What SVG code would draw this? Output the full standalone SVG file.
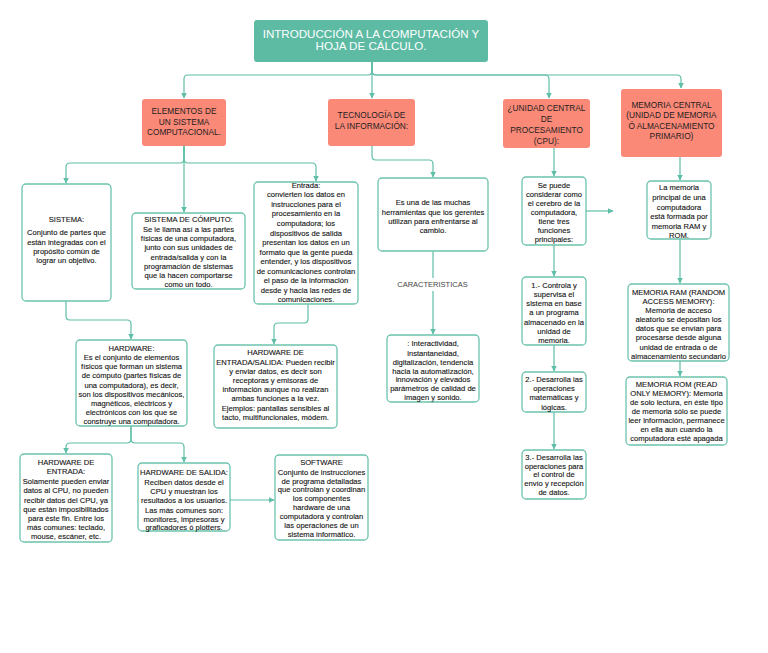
<svg xmlns="http://www.w3.org/2000/svg" width="768" height="653" viewBox="0 0 768 653">
<defs>
<marker id="ah" markerWidth="6" markerHeight="6" refX="5.5" refY="3" orient="auto" markerUnits="userSpaceOnUse">
<path d="M0,0 L6,3 L0,6 z" fill="#5fbea7"/>
</marker>
<style>
.box{fill:#ffffff;stroke:#6cc4ae;stroke-width:1.3}
.sal{fill:#fa8978;stroke:none}
.ttlbox{fill:#5dbba4;stroke:none}
.ttl{font-family:"Liberation Sans",Arial,sans-serif;font-size:11.6px;fill:#ffffff;text-anchor:middle}
.s{font-family:"Liberation Sans",Arial,sans-serif;font-size:8.3px;fill:#1e1e1e;text-anchor:middle}
.t{font-family:"Liberation Sans",Arial,sans-serif;font-size:7.6px;fill:#141414;stroke:#141414;stroke-width:0.12;text-anchor:middle}
.lbl{font-family:"Liberation Sans",Arial,sans-serif;font-size:7.5px;fill:#444444;text-anchor:middle}
.c{fill:none;stroke:#5fbea7;stroke-width:1.2}
</style>
</defs>
<rect width="768" height="653" fill="#ffffff"/>

<g id="connectors">
<path class="c" d="M372,62 V71 Q372,75 368,75 H188 Q184,75 184,79 V98" marker-end="url(#ah)"/>
<path class="c" d="M372,62 V98" marker-end="url(#ah)"/>
<path class="c" d="M372,62 V71 Q372,75 376,75 H545 Q549,75 549,79 V98" marker-end="url(#ah)"/>
<path class="c" d="M372,62 V71 Q372,75 376,75 H677 Q681,75 681,79 V88" marker-end="url(#ah)"/>
<path class="c" d="M184,146 V159 Q184,163 180,163 H70 Q66,163 66,167 V183" marker-end="url(#ah)"/>
<path class="c" d="M184,146 V212" marker-end="url(#ah)"/>
<path class="c" d="M184,146 V159 Q184,163 188,163 H312 Q316,163 316,167 V181" marker-end="url(#ah)"/>
<path class="c" d="M372,146 V156 Q372,160 376,160 H429 Q433,160 433,164 V177" marker-end="url(#ah)"/>
<path class="c" d="M433,251 V334" marker-end="url(#ah)"/>
<path class="c" d="M554,148 V176" marker-end="url(#ah)"/>
<path class="c" d="M554,245 V276" marker-end="url(#ah)"/>
<path class="c" d="M554,345 V371" marker-end="url(#ah)"/>
<path class="c" d="M554,412 V449" marker-end="url(#ah)"/>
<path class="c" d="M586,211 H613" marker-end="url(#ah)"/>
<path class="c" d="M680,157 V180" marker-end="url(#ah)"/>
<path class="c" d="M680,239 V283" marker-end="url(#ah)"/>
<path class="c" d="M680,361 V376" marker-end="url(#ah)"/>
<path class="c" d="M66,301 V316 Q66,320 70,320 H127 Q131,320 131,324 V339" marker-end="url(#ah)"/>
<path class="c" d="M308,304 V319 Q308,323 304,323 H278 Q274,323 274,327 V344" marker-end="url(#ah)"/>
<path class="c" d="M131,426 V439 Q131,443 127,443 H70 Q66,443 66,447 V453" marker-end="url(#ah)"/>
<path class="c" d="M131,426 V439 Q131,443 135,443 H180 Q184,443 184,447 V462" marker-end="url(#ah)"/>
<path class="c" d="M230,500 H274" marker-end="url(#ah)"/>
<rect x="396" y="278" width="73" height="13" fill="#ffffff"/>
<text class="lbl" x="432.5" y="286.8">CARACTERISTICAS</text>
</g>

<g id="titulo">
<rect class="ttlbox" x="254" y="20" width="234" height="42" rx="3"/>
<text class="ttl" x="371" y="37.5">INTRODUCCIÓN A LA COMPUTACIÓN Y</text>
<text class="ttl" x="371" y="50.2">HOJA DE CÁLCULO.</text>
</g>

<g id="elementos">
<rect class="sal" x="142" y="99" width="84" height="47" rx="3"/>
<text class="s" x="184" y="114">ELEMENTOS DE</text>
<text class="s" x="184" y="125">UN SISTEMA</text>
<text class="s" x="184" y="135">COMPUTACIONAL.</text>
</g>

<g id="tecnologia">
<rect class="sal" x="328" y="99" width="87" height="47" rx="3"/>
<text class="s" x="371.5" y="118">TECNOLOGÍA DE</text>
<text class="s" x="371.5" y="129">LA INFORMACIÓN:</text>
</g>

<g id="cpu">
<rect class="sal" x="503" y="99" width="87" height="49" rx="3"/>
<text class="s" x="546.5" y="111.3">¿UNIDAD CENTRAL</text>
<text class="s" x="546.5" y="122">DE</text>
<text class="s" x="546.5" y="133">PROCESAMIENTO</text>
<text class="s" x="546.5" y="143.7">(CPU):</text>
</g>

<g id="memoria">
<rect class="sal" x="621" y="89" width="101" height="68" rx="3"/>
<text class="s" x="671.5" y="108">MEMORIA CENTRAL</text>
<text class="s" x="671.5" y="118.3">(UNIDAD DE MEMORIA</text>
<text class="s" x="671.5" y="128.7">Ó ALMACENAMIENTO</text>
<text class="s" x="671.5" y="139">PRIMARIO)</text>
</g>

<g id="sistema">
<rect class="box" x="22" y="184" width="89" height="117" rx="4"/>
<text class="t" x="66.5" y="222">SISTEMA:</text>
<text class="t" x="66.5" y="235">Conjunto de partes que</text>
<text class="t" x="66.5" y="244.5">están integradas con el</text>
<text class="t" x="66.5" y="254">propósito común de</text>
<text class="t" x="66.5" y="263">lograr un objetivo.</text>
</g>

<g id="sistema-computo">
<rect class="box" x="132" y="213" width="113" height="76" rx="4"/>
<text class="t" x="188.5" y="222.1">SISTEMA DE CÓMPUTO:</text>
<text class="t" x="188.5" y="231.6">Se le llama así a las partes</text>
<text class="t" x="188.5" y="241">físicas de una computadora,</text>
<text class="t" x="188.5" y="250.4">junto con sus unidades de</text>
<text class="t" x="188.5" y="259.7">entrada/salida y con la</text>
<text class="t" x="188.5" y="269">programación de sistemas</text>
<text class="t" x="188.5" y="278.3">que la hacen comportarse</text>
<text class="t" x="188.5" y="287.3">como un todo.</text>
</g>

<g id="entrada">
<rect class="box" x="254" y="182" width="104" height="122" rx="4"/>
<text class="t" x="306" y="187.8">Entrada:</text>
<text class="t" x="306" y="197.3">convierten los datos en</text>
<text class="t" x="306" y="206.9">instrucciones para el</text>
<text class="t" x="306" y="216.4">procesamiento en la</text>
<text class="t" x="306" y="225.9">computadora; los</text>
<text class="t" x="306" y="235.5">dispositivos de salida</text>
<text class="t" x="306" y="245">presentan los datos en un</text>
<text class="t" x="306" y="254.5">formato que la gente pueda</text>
<text class="t" x="306" y="264">entender, y los dispositivos</text>
<text class="t" x="306" y="273.6">de comunicaciones controlan</text>
<text class="t" x="306" y="283.1">el paso de la información</text>
<text class="t" x="306" y="292.6">desde y hacia las redes de</text>
<text class="t" x="306" y="302.1">comunicaciones.</text>
</g>

<g id="tec-desc">
<rect class="box" x="378" y="178" width="110" height="73" rx="4"/>
<text class="t" x="433" y="204.5">Es una de las muchas</text>
<text class="t" x="433" y="214.5">herramientas que los gerentes</text>
<text class="t" x="433" y="223.8">utilizan para enfrentarse al</text>
<text class="t" x="433" y="232.8">cambio.</text>
</g>

<g id="caracteristicas">
<rect class="box" x="387" y="335" width="92" height="67" rx="4"/>
<text class="t" x="433" y="345.5">: Interactividad,</text>
<text class="t" x="433" y="355.5">instantaneidad,</text>
<text class="t" x="433" y="364.5">digitalización, tendencia</text>
<text class="t" x="433" y="373.5">hacia la automatización,</text>
<text class="t" x="433" y="382.1">innovación y elevados</text>
<text class="t" x="433" y="391.1">parámetros de calidad de</text>
<text class="t" x="433" y="400.1">imagen y sonido.</text>
</g>

<g id="cpu-desc">
<rect class="box" x="522" y="177" width="64" height="68" rx="4"/>
<text class="t" x="554" y="187.8">Se puede</text>
<text class="t" x="554" y="196.8">considerar como</text>
<text class="t" x="554" y="205.5">el cerebro de la</text>
<text class="t" x="554" y="214.5">computadora,</text>
<text class="t" x="554" y="223.8">tiene tres</text>
<text class="t" x="554" y="232.8">funciones</text>
<text class="t" x="554" y="241.8">principales:</text>
</g>

<g id="cpu-f1">
<rect class="box" x="522" y="277" width="64" height="68" rx="4"/>
<text class="t" x="554" y="287.8">1.- Controla y</text>
<text class="t" x="554" y="296.8">supervisa el</text>
<text class="t" x="554" y="306.1">sistema en base</text>
<text class="t" x="554" y="315.1">a un programa</text>
<text class="t" x="554" y="324.5">almacenado en la</text>
<text class="t" x="554" y="333.5">unidad de</text>
<text class="t" x="554" y="342.8">memoria.</text>
</g>

<g id="cpu-f2">
<rect class="box" x="522" y="372" width="64" height="40" rx="4"/>
<text class="t" x="554" y="382.1">2.- Desarrolla las</text>
<text class="t" x="554" y="391.1">operaciones</text>
<text class="t" x="554" y="400.1">matemáticas y</text>
<text class="t" x="554" y="409.5">lógicas.</text>
</g>

<g id="cpu-f3">
<rect class="box" x="522" y="450" width="64" height="49" rx="4"/>
<text class="t" x="554" y="459.5">3.- Desarrolla las</text>
<text class="t" x="554" y="468.5">operaciones para</text>
<text class="t" x="554" y="477.1">el control de</text>
<text class="t" x="554" y="486.1">envío y recepción</text>
<text class="t" x="554" y="495.1">de datos.</text>
</g>

<g id="mem-desc">
<rect class="box" x="647" y="181" width="64" height="58" rx="4"/>
<text class="t" x="679" y="189.5">La memoria</text>
<text class="t" x="679" y="200">principal de una</text>
<text class="t" x="679" y="209.8">computadora</text>
<text class="t" x="679" y="219.3">está formada por</text>
<text class="t" x="679" y="228.5">memoria RAM y</text>
<text class="t" x="679" y="237.5">ROM.</text>
</g>

<g id="mem-ram">
<rect class="box" x="628" y="284" width="101" height="77" rx="4"/>
<text class="t" x="678.5" y="294.5">MEMORIA RAM (RANDOM</text>
<text class="t" x="678.5" y="303.8">ACCESS MEMORY):</text>
<text class="t" x="678.5" y="312.8">Memoria de acceso</text>
<text class="t" x="678.5" y="321.8">aleatorio se depositan los</text>
<text class="t" x="678.5" y="331.1">datos que se envían para</text>
<text class="t" x="678.5" y="340.1">procesarse desde alguna</text>
<text class="t" x="678.5" y="349.5">unidad de entrada o de</text>
<text class="t" x="678.5" y="358.8">almacenamiento secundario</text>
</g>

<g id="mem-rom">
<rect class="box" x="626" y="377" width="101" height="68" rx="4"/>
<text class="t" x="676.5" y="386.8">MEMORIA ROM (READ</text>
<text class="t" x="676.5" y="396.1">ONLY MEMORY): Memoria</text>
<text class="t" x="676.5" y="405.1">de solo lectura, en éste tipo</text>
<text class="t" x="676.5" y="413.8">de memoria sólo se puede</text>
<text class="t" x="676.5" y="422.8">leer información, permanece</text>
<text class="t" x="676.5" y="432.1">en ella aun cuando la</text>
<text class="t" x="676.5" y="441.1">computadora esté apagada</text>
</g>

<g id="hardware">
<rect class="box" x="76" y="340" width="111" height="86" rx="4"/>
<text class="t" x="131.5" y="351.1">HARDWARE:</text>
<text class="t" x="131.5" y="360.1">Es el conjunto de elementos</text>
<text class="t" x="131.5" y="368.8">físicos que forman un sistema</text>
<text class="t" x="131.5" y="377.8">de cómputo (partes físicas de</text>
<text class="t" x="131.5" y="387.8">una computadora), es decir,</text>
<text class="t" x="131.5" y="396.8">son los dispositivos mecánicos,</text>
<text class="t" x="131.5" y="405.5">magnéticos, eléctricos y</text>
<text class="t" x="131.5" y="414.5">electrónicos con los que se</text>
<text class="t" x="131.5" y="424">construye una computadora.</text>
</g>

<g id="hardware-es">
<rect class="box" x="214" y="345" width="123" height="83" rx="4"/>
<text class="t" x="275.5" y="355.1">HARDWARE DE</text>
<text class="t" x="275.5" y="364.5">ENTRADA/SALIDA: Pueden recibir</text>
<text class="t" x="275.5" y="373.8">y enviar datos, es decir son</text>
<text class="t" x="275.5" y="382.8">receptoras y emisoras de</text>
<text class="t" x="275.5" y="392.1">información aunque no realizan</text>
<text class="t" x="275.5" y="401.1">ambas funciones a la vez.</text>
<text class="t" x="275.5" y="410.5">Ejemplos: pantallas sensibles al</text>
<text class="t" x="275.5" y="419.5">tacto, multifuncionales, módem.</text>
</g>

<g id="hw-entrada">
<rect class="box" x="20" y="454" width="92" height="88" rx="4"/>
<text class="t" x="66" y="465">HARDWARE DE</text>
<text class="t" x="66" y="474.4">ENTRADA:</text>
<text class="t" x="66" y="483.8">Solamente pueden enviar</text>
<text class="t" x="66" y="493.1">datos al CPU, no pueden</text>
<text class="t" x="66" y="502.5">recibir datos del CPU, ya</text>
<text class="t" x="66" y="511.8">que están imposibilitados</text>
<text class="t" x="66" y="521.1">para éste fin. Entre los</text>
<text class="t" x="66" y="530.4">más comunes: teclado,</text>
<text class="t" x="66" y="539">mouse, escáner, etc.</text>
</g>

<g id="hw-salida">
<rect class="box" x="138" y="463" width="92" height="68" rx="4"/>
<text class="t" x="184" y="475.1">HARDWARE DE SALIDA:</text>
<text class="t" x="184" y="484.5">Reciben datos desde el</text>
<text class="t" x="184" y="493.8">CPU y muestran los</text>
<text class="t" x="184" y="502.8">resultados a los usuarios.</text>
<text class="t" x="184" y="512.8">Las más comunes son:</text>
<text class="t" x="184" y="522.1">monitores, impresoras y</text>
<text class="t" x="184" y="530">graficadores ó plotters.</text>
</g>

<g id="software">
<rect class="box" x="275" y="455" width="93" height="85" rx="4"/>
<text class="t" x="321.5" y="465.1">SOFTWARE</text>
<text class="t" x="321.5" y="474.5">Conjunto de instrucciones</text>
<text class="t" x="321.5" y="483.5">de programa detalladas</text>
<text class="t" x="321.5" y="492.1">que controlan y coordinan</text>
<text class="t" x="321.5" y="501.1">los componentes</text>
<text class="t" x="321.5" y="510.1">hardware de una</text>
<text class="t" x="321.5" y="518.8">computadora y controlan</text>
<text class="t" x="321.5" y="527.8">las operaciones de un</text>
<text class="t" x="321.5" y="537.1">sistema informático.</text>
</g>
</svg>
